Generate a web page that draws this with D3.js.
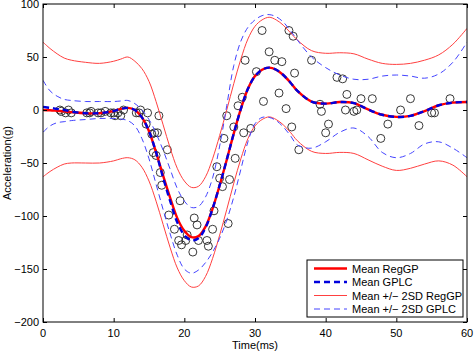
<!DOCTYPE html>
<html>
<head>
<meta charset="utf-8">
<script src="https://cdn.jsdelivr.net/npm/d3@7"></script>
<style>
  body { margin: 0; background: #fff; }
  text { font-family: "Liberation Sans", Arial, sans-serif; }
</style>
</head>
<body>
<svg id="chart" width="474" height="351"></svg>
<script>
// observed data (time in ms, acceleration in g)
const obsTime = [2.4, 2.6, 3.2, 3.6, 4.0, 6.2, 6.6, 6.8, 7.8, 8.2, 8.8, 9.6, 10.0, 10.2, 10.6, 11.0, 11.4,
  13.2, 13.6, 13.8, 14.6, 14.8, 15.4, 15.6, 15.8, 16.0, 16.2, 16.4, 16.6, 16.8, 17.6, 17.8, 18.6, 19.2,
  19.4, 19.6, 20.2, 20.4, 21.2, 21.4, 21.8, 22.0, 23.2, 23.4, 24.0, 24.2, 24.6, 25.0, 25.4, 25.6, 26.0,
  26.2, 26.4, 27.0, 27.2, 27.6, 28.2, 28.4, 28.6, 29.4, 30.2, 31.0, 31.2, 32.0, 32.8, 33.4, 33.8, 34.4,
  34.8, 35.2, 35.4, 35.6, 36.2, 38.0, 39.2, 39.4, 40.0, 40.4, 41.6, 42.4, 42.8, 43.0, 44.0, 44.4, 45.0,
  46.6, 47.8, 48.8, 50.6, 52.0, 53.2, 55.0, 55.4, 57.6];
const obsAccel = [0.0, -1.3, -2.7, 0.0, -2.7, -2.7, -2.7, -1.3, -2.7, -2.7, -1.3, -2.7, -2.7, -5.4, -2.7, -5.4, 0.0,
  -2.7, -2.7, 0.0, -13.3, -2.7, -22.8, -40.2, -21.5, -42.9, -21.5, -5.4, -59.0, -71.0, -37.5, -99.1, -112.5, -123.1,
  -85.6, -127.2, -123.1, -117.9, -134.0, -101.9, -108.4, -123.1, -123.1, -128.5, -112.5, -95.1, -53.5, -64.4, -72.3, -26.8, -5.4,
  -107.1, -65.6, -16.0, -45.6, 4.0, 12.0, -21.5, 46.9, -17.4, 36.2, 75.0, 8.1, 54.9, 46.9, 16.0, 45.6, 1.3,
  75.0, -16.0, 69.6, 34.8, -37.5, 46.9, 5.4, -1.3, -21.5, -13.3, 30.8, 29.4, 0.0, 14.7, -1.3, 0.0, 10.7,
  10.7, -26.8, -13.3, 0.0, 10.7, -14.7, -2.7, -2.7, 10.7];

// fitted curves, read at these times
const fitTime = [0, 1, 2, 3, 4, 6, 8, 10, 11, 12, 13, 14, 15, 16, 17, 18, 19, 20, 21, 22, 23, 24, 25, 26,
  27, 28, 29, 30, 31, 32, 33, 34, 35, 36, 38, 40, 42, 44, 46, 48, 50, 52, 54, 56, 58, 60];
const meanRegGP = [0, -0.3, -0.8, -1.3, -2, -3, -3, -1, 1, 2, 0, -7, -20, -40, -62, -83, -102, -114, -120, -119, -110, -93, -71, -47,
  -22, 1, 20, 32, 38, 40, 38, 33, 26, 18, 8, 6, 7.5, 6.5, 0.5, -4.5, -6.5, -5.5, -1, 4.5, 7, 7.5];
const meanGPLC = [3, 2, 1, 0, -1.5, -3, -3, -1, 1, 2, 0, -7, -20, -40, -64, -86, -106, -118, -123, -121, -111, -93, -71, -47,
  -22, 1, 20, 32, 38, 40, 38, 33, 26, 18, 8, 6, 7.5, 6.5, 0.5, -4.5, -6.5, -5.5, -1, 4.5, 7, 7.5];
const upperRegGP = [64, 58, 53, 49, 47, 45, 44, 46, 48, 50, 46, 39, 27, 8, -14, -36, -55, -67, -73, -72, -63, -46, -24, 0,
  25, 48, 67, 79, 85, 87.5, 85, 80, 73, 66, 56, 53.5, 54, 53, 48, 44, 43, 44, 47, 52, 62, 77];
const lowerRegGP = [-63, -58, -54, -51, -50, -50, -50, -48, -46, -45, -47, -54, -67, -86, -108, -130, -149, -161, -167, -166, -157, -140, -118, -94,
  -69, -46, -27, -15, -9, -6.5, -9, -14, -21, -29, -39, -41, -40, -41, -47, -53, -57, -55, -51, -48, -52, -63];
const upperGPLC = [28, 18, 13, 10, 9, 8, 8, 8, 8.5, 9, 6, 0, -9, -22, -38, -56, -74, -86, -92, -91, -82, -64, -34, 4,
  42, 65, 78, 85, 89, 90, 88, 83, 75, 66, 50, 40, 33, 29, 29, 32, 33, 32, 30, 34, 45, 64];
const lowerGPLC = [-21, -15, -12, -11, -10, -9, -8, -8, -8.5, -10, -15, -27, -46, -70, -94, -117, -137, -150, -154, -151, -144, -134, -121, -104,
  -82, -56, -30, -13, -7, -7, -10, -16, -24, -33, -36, -30, -21, -17, -25, -40, -45, -41, -32, -30, -36, -45];

const xTicks = [0, 10, 20, 30, 40, 50, 60];
const yTicks = [-200, -150, -100, -50, 0, 50, 100];

const seriesNames = ["Mean RegGP", "Mean GPLC", "Mean +/\u2212 2SD RegGP", "Mean +/\u2212 2SD GPLC"];

const svg = d3.select("#chart");
const plotLeft = 43, plotRight = 467, plotTop = 4, plotBottom = 322;

const x = d3.scaleLinear().domain([0, 60]).range([plotLeft, plotRight]);
const y = d3.scaleLinear().domain([-200, 100]).range([plotBottom, plotTop]);

svg.append("defs").append("clipPath").attr("id", "clip")
  .append("rect")
    .attr("x", plotLeft).attr("y", plotTop)
    .attr("width", plotRight - plotLeft).attr("height", plotBottom - plotTop);

const plot = svg.append("g").attr("clip-path", "url(#clip)");

// data points
plot.selectAll(".obs")
  .data(obsTime.map((t, i) => [t, obsAccel[i]]))
  .enter()
  .append("circle")
    .classed("obs", true)
    .attr("cx", d => x(d[0]))
    .attr("cy", d => y(d[1]))
    .attr("r", 4)
    .attr("fill", "none")
    .attr("stroke", "#222")
    .attr("stroke-width", 0.9);

const line = d3.line()
  .x((d, i) => x(fitTime[i]))
  .y(d => y(d))
  .curve(d3.curveCatmullRom.alpha(0.5));

// style per series: colour, width, dash
const styles = [
  { color: "#ff0000", width: 2.4, dash: null },
  { color: "#0000dd", width: 2.4, dash: "6,4" },
  { color: "#ff4040", width: 1, dash: null },
  { color: "#4444ff", width: 1, dash: "6,4" }
];

function drawCurve(values, s) {
  plot.append("path")
    .attr("d", line(values))
    .attr("fill", "none")
    .attr("stroke", s.color)
    .attr("stroke-width", s.width)
    .attr("stroke-dasharray", s.dash);
}

drawCurve(upperRegGP, styles[2]);
drawCurve(lowerRegGP, styles[2]);
drawCurve(upperGPLC, styles[3]);
drawCurve(lowerGPLC, styles[3]);
drawCurve(meanRegGP, styles[0]);
drawCurve(meanGPLC, styles[1]);

// frame and ticks (inward, on all four sides)
svg.append("rect")
  .attr("x", plotLeft).attr("y", plotTop)
  .attr("width", plotRight - plotLeft).attr("height", plotBottom - plotTop)
  .attr("fill", "none").attr("stroke", "#000").attr("stroke-width", 1);

svg.append("g")
  .attr("transform", `translate(0,${plotBottom})`)
  .call(d3.axisTop(x).tickValues(xTicks).tickSize(4).tickFormat(""))
  .call(g => g.select(".domain").remove());
svg.append("g")
  .attr("transform", `translate(0,${plotTop})`)
  .call(d3.axisBottom(x).tickValues(xTicks).tickSize(4).tickFormat(""))
  .call(g => g.select(".domain").remove());
svg.append("g")
  .attr("transform", `translate(${plotLeft},0)`)
  .call(d3.axisRight(y).tickValues(yTicks).tickSize(4).tickFormat(""))
  .call(g => g.select(".domain").remove());
svg.append("g")
  .attr("transform", `translate(${plotRight},0)`)
  .call(d3.axisLeft(y).tickValues(yTicks).tickSize(4).tickFormat(""))
  .call(g => g.select(".domain").remove());

// tick labels
svg.append("g").selectAll("text")
  .data(xTicks).enter().append("text")
    .attr("x", d => x(d)).attr("y", plotBottom + 15)
    .attr("text-anchor", "middle")
    .text(d => d);
svg.append("g").selectAll("text")
  .data(yTicks).enter().append("text")
    .attr("x", plotLeft - 4).attr("y", d => y(d) + 4)
    .attr("text-anchor", "end")
    .text(d => d < 0 ? "\u2212" + Math.abs(d) : d);
svg.selectAll("text").attr("font-size", 11).attr("fill", "#000");

svg.append("text")
  .attr("x", (plotLeft + plotRight) / 2).attr("y", plotBottom + 27)
  .attr("text-anchor", "middle").attr("font-size", 11)
  .text("Time(ms)");
svg.append("text")
  .attr("transform", `translate(11,${(plotTop + plotBottom) / 2}) rotate(-90)`)
  .attr("text-anchor", "middle").attr("font-size", 11)
  .text("Acceleration(g)");

// legend
const legend = svg.append("g").attr("transform", "translate(307,260)");
legend.append("rect")
  .attr("width", 156).attr("height", 57)
  .attr("fill", "#fff").attr("stroke", "#000").attr("stroke-width", 1);
seriesNames.forEach((name, i) => {
  const ly = 8.5 + i * 13.5;
  legend.append("line")
    .attr("x1", 7).attr("x2", 40).attr("y1", ly).attr("y2", ly)
    .attr("stroke", styles[i].color)
    .attr("stroke-width", styles[i].width)
    .attr("stroke-dasharray", styles[i].dash);
  legend.append("text")
    .attr("x", 45).attr("y", ly + 4)
    .attr("font-size", 11)
    .text(name);
});
</script>
</body>
</html>
